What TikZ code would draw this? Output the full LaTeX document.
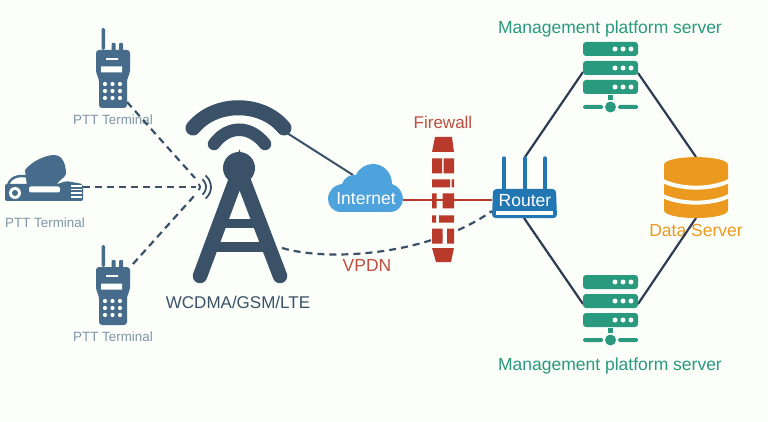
\documentclass[tikz,border=0pt]{standalone}
\usepackage{fontspec}
\setmainfont{Liberation Sans}
\usetikzlibrary{positioning}
\definecolor{paper}{HTML}{FBFEF9}
\definecolor{towercol}{HTML}{3A5168}
\definecolor{radiocol}{HTML}{476C8B}
\definecolor{pttcol}{HTML}{8095A8}
\definecolor{linkcol}{HTML}{2E3B52}
\definecolor{servercol}{HTML}{2A9A7E}
\definecolor{datacol}{HTML}{EB9A1F}
\definecolor{wallcol}{HTML}{B93A2B}
\definecolor{routercol}{HTML}{2277B2}
\definecolor{cloudcol}{HTML}{4FA3DC}
\newcommand{\fsize}[1]{\fontsize{#1}{#1}\selectfont}

\tikzset{
	handheld/.pic={
		\fill[radiocol,rounded corners=1.5] (-11.5,0) rectangle (-8,-22);
		\fill[radiocol,rounded corners=1] (-1.5,1) rectangle (2.5,-7) (6,1) rectangle (10,-7);
		\fill[radiocol,rounded corners=3] (-17,0) -- (17,0) -- (17,23) -- (14,29) -- (14,58) -- (-14,58) -- (-14,29) -- (-17,23) -- cycle;
		\fill[paper] (-7,8.2) rectangle (5,9.8) (-12,16.5) rectangle (9,22.5);
		\foreach \x in {-8,-0.5,7}
			\foreach \y in {34,41,48}
				\fill[paper] (\x,\y) circle (2.1);
	},
	carradio/.pic={
		\fill[radiocol,rounded corners=2] (5,184) -- (58,184) -- (66,181) -- (83,184) -- (83,201) -- (5,201) -- cycle;
		\draw[radiocol,line width=2.4] (8,186) .. controls (9,178) and (18,174) .. (29,177);
		\fill[radiocol] (25,170) .. controls (32,161) and (46,155) .. (54,155) .. controls (63,155) and (66,165) .. (66,174) .. controls (64,179) and (60,179) .. (57,184) -- (27,186) -- cycle;
		\fill[paper] (15,193) circle (6);
		\fill[radiocol] (15,193) circle (3);
		\fill[paper,rounded corners=2] (29,186.5) rectangle (60,192.5);
		\foreach \y in {186,189.5,193,197}
			\fill[paper] (71,\y-0.6) rectangle (82,\y+0.6);
	},
	rack/.pic={
		\foreach \y in {0,19,38}
		{
			\fill[servercol,rounded corners=3] (0,\y) rectangle (55,\y+14);
			\foreach \x in {32,40,48}
				\fill[paper] (\x,\y+7) circle (2.5);
		}
		\fill[servercol] (25,53) rectangle (30,58);
		\fill[servercol,rounded corners=1.5] (0,63) rectangle (20,67) (35,63) rectangle (55,67);
		\fill[servercol] (27.5,65) circle (5.5);
	},
	wall block/.style={fill=wallcol},
	dashlink/.style={draw=towercol,line width=2.2,dash pattern=on 7 off 5},
	solidlink/.style={draw=linkcol,line width=2.2},
	txt/.style={inner sep=0,text depth=0,font=\fsize{17.5}},
	ptt/.style={inner sep=0,text=pttcol,font=\fsize{13.4}},
}

\begin{document}
\begin{tikzpicture}[x=1pt,y=-1pt]
	\fill[paper] (0,0) rectangle (768,422);
	\useasboundingbox (0,0) rectangle (768,422);

	% labels
	\node[ptt] (ptt-a) at (113,120) {PTT Terminal};
	\node[ptt] (ptt-b) at (45,223) {PTT Terminal};
	\node[ptt] (ptt-c) at (113,337) {PTT Terminal};
	\node[txt,text=towercol,font=\fsize{17}] (tower-name) at (238,302) {WCDMA/GSM/LTE};
	\node[txt,text=wallcol!90!white,font=\fsize{17}] (wall-name) at (443,122) {Firewall};
	\node[txt,text=wallcol!90!white] (vpdn) at (367,265) {VPDN};
	\node[txt,text=servercol] (srv-a-name) at (610,27) {Management platform server};
	\node[txt,text=servercol] (srv-b-name) at (610,364) {Management platform server};
	\node[txt,text=datacol] (data-name) at (696,230) {Data Server};

	% connector ends
	\coordinate (wave) at (196,187);
	\coordinate (wave-a) at (195,178);
	\coordinate (wave-c) at (195,195);
	\coordinate (hand-a) at (127,102);
	\coordinate (hand-c) at (133,264);
	\coordinate (car) at (83,187);
	\coordinate (mast) at (287,133);
	\coordinate (mast-low) at (282,248);
	\coordinate (cloud-top) at (353,175);
	\coordinate (cloud-r) at (403,200);
	\coordinate (router-l) at (492,200);
	\coordinate (router-low) at (492,211);
	\coordinate (router-top) at (525,157);
	\coordinate (router-bot) at (524,218);
	\coordinate (srv-a-l) at (583,72);
	\coordinate (srv-a-r) at (638,73);
	\coordinate (srv-b-l) at (583,304);
	\coordinate (srv-b-r) at (638,304);
	\coordinate (data-top) at (696,157);
	\coordinate (data-bot) at (696,218);

	% connectors
	\path[dashlink] (hand-a) -- (wave-a);
	\path[dashlink] (car) -- (wave);
	\path[dashlink] (hand-c) -- (wave-c);
	\path[dashlink] (mast-low) .. controls (330,262) and (430,255) .. (router-low);
	\draw[towercol,line width=2] (mast) -- (cloud-top);
	\draw[wallcol,line width=1.7] (cloud-r) -- (router-l);
	\path[solidlink] (router-top) -- (srv-a-l);
	\path[solidlink] (srv-a-r) -- (data-top);
	\path[solidlink] (router-bot) -- (srv-b-l);
	\path[solidlink] (srv-b-r) -- (data-bot);

	% terminals
	\pic at (113,50) {handheld};
	\pic at (113,267) {handheld};
	\pic at (0,0) {carradio};
	\foreach \r in {4,10,15}
		\draw[towercol,line width=1.8] ([shift={(-50:\r pt)}]wave) arc[start angle=-50,end angle=50,radius=\r pt];

	% tower
	\draw[towercol,line width=14.5,line cap=round] (200,276) -- (239.5,170) -- (280,276);
	\draw[towercol,line width=9.5] (219,223.5) -- (259,223.5);
	\draw[towercol,line width=10] (210,247) -- (268,247);
	\fill[towercol] (239,168) circle (16);
	\draw[towercol,line width=15,line cap=round] (193,128) .. controls (215,101) and (262,101) .. (284,128);
	\draw[towercol,line width=12.5,line cap=round] (214,144) .. controls (228,125) and (250,125) .. (265,144);

	% cloud
	\fill[cloudcol] (341,212) .. controls (333,212) and (328,206) .. (328,199) .. controls (328,191) and (334,185) .. (342,184) .. controls (344,178) and (350,174) .. (356,175) .. controls (359,168) and (366,164) .. (373,164) .. controls (383,164) and (392,172) .. (392,184) .. controls (398,186) and (403,192) .. (403,199) .. controls (403,206) and (397,212) .. (391,212) -- cycle;
	\node[txt,text=white] (cloud-name) at (366,198) {Internet};

	% firewall
	\fill[wall block] (435,137) -- (452,137) -- (454,152) -- (432,152) -- cycle;
	\fill[wall block] (432,158.5) rectangle (442,173.5) (443.5,158.5) rectangle (454,173.5);
	\fill[wall block] (432,179.5) rectangle (450,187.5) (451.5,179.5) rectangle (454,187.5);
	\fill[wall block] (432,193.5) rectangle (436.5,208.5) (442.5,193.5) rectangle (454,208.5);
	\fill[wall block] (432,215.5) rectangle (436,222.5) (439,215.5) rectangle (454,222.5);
	\fill[wall block] (432,228.5) rectangle (442.5,243.5) (447,228.5) rectangle (454,243.5);
	\fill[wall block] (432,248) -- (454,248) -- (451,262) -- (436,262) -- cycle;

	% router
	\foreach \x in {504,525,545}
		\draw[routercol,line width=3.4,line cap=round] (\x,158) -- (\x,192);
	\fill[routercol,rounded corners=3.5] (493,189) -- (556,189) -- (557,218) -- (492,218) -- cycle;
	\fill[paper] (496,211) rectangle (553,215);
	\node[txt,text=white] (router-name) at (525,200) {Router};

	% servers
	\pic at (583,42) {rack};
	\pic at (583,275) {rack};

	% data server
	\fill[datacol] (664,165) .. controls (664,154.5) and (728,154.5) .. (728,165) -- (728,210) .. controls (728,220.7) and (664,220.7) .. (664,210) -- cycle;
	\draw[paper,line width=4] (662,180.5) .. controls (680,190) and (712,190) .. (730,180.5);
	\draw[paper,line width=4] (662,195.5) .. controls (680,205) and (712,205) .. (730,195.5);
\end{tikzpicture}
\end{document}
